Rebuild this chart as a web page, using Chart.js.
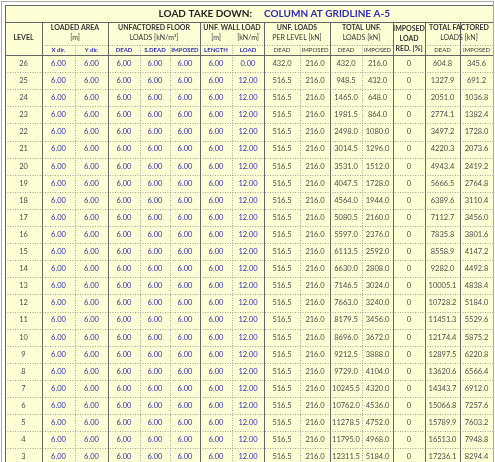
<!DOCTYPE html>
<html><head><meta charset="utf-8">
<script src="https://cdn.jsdelivr.net/npm/chart.js@4"></script>
<style>html,body{margin:0;padding:0;background:#fff}#c{display:block}</style>
</head><body>
<div style="width:495px;height:462px"><canvas id="c"></canvas></div>
<script>
const levels = [26,25,24,23,22,21,20,19,18,17,16,15,14,13,12,11,10,9,8,7,6,5,4,3]
const areaX = Array(24).fill('6.00')
const areaY = Array(24).fill('6.00')
const floorDead = Array(24).fill('6.00')
const floorSDead = Array(24).fill('6.00')
const floorImposed = Array(24).fill('6.00')
const wallLength = Array(24).fill('6.00')
const wallLoad = ['0.00'].concat(Array(23).fill('12.00'))
const levelDead = ['432.0'].concat(Array(23).fill('516.5'))
const levelImposed = Array(24).fill('216.0')
const totalDead = ['432.0','948.5','1465.0','1981.5','2498.0','3014.5','3531.0','4047.5','4564.0','5080.5','5597.0','6113.5','6630.0','7146.5','7663.0','8179.5','8696.0','9212.5','9729.0','10245.5','10762.0','11278.5','11795.0','12311.5']
const totalImposed = ['216.0','432.0','648.0','864.0','1080.0','1296.0','1512.0','1728.0','1944.0','2160.0','2376.0','2592.0','2808.0','3024.0','3240.0','3456.0','3672.0','3888.0','4104.0','4320.0','4536.0','4752.0','4968.0','5184.0']
const reduction = Array(24).fill('0')
const factDead = ['604.8','1327.9','2051.0','2774.1','3497.2','4220.3','4943.4','5666.5','6389.6','7112.7','7835.8','8558.9','9282.0','10005.1','10728.2','11451.3','12174.4','12897.5','13620.6','14343.7','15066.8','15789.9','16513.0','17236.1']
const factImposed = ['345.6','691.2','1036.8','1382.4','1728.0','2073.6','2419.2','2764.8','3110.4','3456.0','3801.6','4147.2','4492.8','4838.4','5184.0','5529.6','5875.2','6220.8','6566.4','6912.0','7257.6','7603.2','7948.8','8294.4']

// layout
const edges = [5,42,75,108,140,170,200,232,264,300,330,362,393,425,460,493]
const solid = [0,1,3,6,8,10,12,13,14,15]
const columns = [levels,areaX,areaY,floorDead,floorSDead,floorImposed,wallLength,wallLoad,levelDead,levelImposed,totalDead,totalImposed,reduction,factDead,factImposed]
const blueCols = [1,2,3,4,5,6,7]
const BLUE = '#2b2bb8', GREY = '#4a4a4a', LINE = '#666'
const HEAD_TOP = 22, HEAD_BOT = 55

const tablePlugin = {
  id: 'table',
  afterDraw(chart) {
    const { ctx, scales: { x, y } } = chart
    const L = x.getPixelForValue(edges[0]), R = x.getPixelForValue(edges[edges.length - 1])
    const cx = i => (x.getPixelForValue(edges[i]) + x.getPixelForValue(edges[i + 1])) / 2
    const ex = i => x.getPixelForValue(edges[i])
    ctx.save()
    ctx.fillStyle = '#ffffd6'
    ctx.fillRect(L, 5, R - L, 462)
    ctx.textAlign = 'center'
    ctx.textBaseline = 'middle'
    // data cells
    ctx.font = '7.5px Lato'
    columns.forEach((col, c) => {
      ctx.fillStyle = blueCols.includes(c) ? BLUE : GREY
      col.forEach((v, r) => ctx.fillText(v, cx(c), y.getPixelForValue(r)))
    })
    // horizontal dotted lines
    ctx.strokeStyle = '#888'
    ctx.lineWidth = 0.8
    ctx.setLineDash([1, 1.5])
    for (let r = 0; r < levels.length; r++) {
      const py = Math.round(y.getPixelForValue(r + 0.5)) + 0.5
      ctx.beginPath(); ctx.moveTo(L, py); ctx.lineTo(R, py); ctx.stroke()
    }
    ctx.beginPath(); ctx.moveTo(ex(1), 45.5); ctx.lineTo(ex(12), 45.5); ctx.moveTo(ex(13), 45.5); ctx.lineTo(R, 45.5); ctx.stroke()
    // vertical lines
    for (let i = 0; i < edges.length; i++) {
      const px = Math.round(ex(i)) + 0.5
      const isSolid = solid.includes(i)
      ctx.setLineDash(isSolid ? [] : [1, 1.5])
      ctx.strokeStyle = isSolid ? LINE : '#888'
      ctx.lineWidth = isSolid ? 1 : 0.8
      ctx.beginPath(); ctx.moveTo(px, isSolid ? HEAD_TOP : 45); ctx.lineTo(px, 462); ctx.stroke()
    }
    ctx.setLineDash([])
    ctx.strokeStyle = LINE
    ctx.lineWidth = 1
    ctx.strokeRect(L + 0.5, 5.5, R - L, 470)
    ctx.beginPath()
    ctx.moveTo(L, HEAD_TOP + 0.5); ctx.lineTo(R, HEAD_TOP + 0.5)
    ctx.moveTo(L, HEAD_BOT + 0.5); ctx.lineTo(R, HEAD_BOT + 0.5)
    ctx.stroke()
    ctx.strokeStyle = '#aaa'
    ctx.strokeRect(1.5, 1.5, 492, 470)
    // title
    ctx.font = 'bold 10px Lato'
    ctx.textAlign = 'right'
    ctx.fillStyle = '#222'
    ctx.fillText('LOAD TAKE DOWN:', 252, 13.5)
    ctx.textAlign = 'left'
    ctx.fillStyle = BLUE
    ctx.fillText('COLUMN AT GRIDLINE A-5', 264, 13.5)
    // headers
    ctx.textAlign = 'center'
    ctx.fillStyle = '#333'
    const g = (a, b) => (ex(a) + ex(b)) / 2
    ctx.font = 'bold 7px Lato'
    ctx.fillText('LEVEL', cx(0), 38)
    ctx.fillText('LOADED AREA', g(1, 3), 28)
    ctx.fillText('UNFACTORED FLOOR', g(3, 6), 28)
    ctx.fillText('UNF. WALL LOAD', g(6, 8), 28)
    ctx.fillText('UNF. LOADS', g(8, 10), 28)
    ctx.fillText('TOTAL UNF.', g(10, 12), 28)
    ctx.fillText('IMPOSED', cx(12), 29)
    ctx.fillText('LOAD', cx(12), 39)
    ctx.fillText('RED. [%]', cx(12), 49)
    ctx.fillText('TOTAL FACTORED', g(13, 15), 28)
    ctx.font = '7px Lato'
    ctx.fillText('[m]', g(1, 3), 38)
    ctx.fillText('[m]', cx(6), 38)
    ctx.fillText('[kN/m]', cx(7), 38)
    ctx.fillText('PER LEVEL [kN]', g(8, 10), 38)
    ctx.fillText('LOADS [kN]', g(10, 12), 38)
    ctx.fillText('LOADS [kN]', g(13, 15), 38)
    ctx.fillText('LOADS [kN/m\u00b2]', g(3, 6), 38)
    ctx.font = 'bold 6px Lato'
    ctx.fillStyle = BLUE
    const sub1 = ['', 'X dir.', 'Y dir.', 'DEAD', 'S.DEAD', 'IMPOSED', 'LENGTH', 'LOAD']
    sub1.forEach((t, i) => t && ctx.fillText(t, cx(i), 50.5))
    ctx.font = '6px Lato'
    ctx.fillStyle = '#333'
    ;[[8, 'DEAD'], [9, 'IMPOSED'], [10, 'DEAD'], [11, 'IMPOSED'], [13, 'DEAD'], [14, 'IMPOSED']].forEach(([i, t]) => ctx.fillText(t, cx(i), 50.5))
    ctx.restore()
  }
}

new Chart(document.getElementById('c'), {
  type: 'scatter',
  data: { datasets: [{ data: [], pointRadius: 0 }] },
  options: {
    responsive: true,
    maintainAspectRatio: false,
    animation: false,
    layout: { padding: { top: HEAD_BOT, left: 0, right: 0, bottom: 0 } },
    plugins: { legend: { display: false }, tooltip: { enabled: false } },
    scales: {
      x: { type: 'linear', display: false, min: 0, max: 495 },
      y: { type: 'linear', display: false, reverse: true, min: -0.5, max: -0.5 + (462 - HEAD_BOT) / 17.1 }
    }
  },
  plugins: [tablePlugin]
})
</script>
</body></html>
